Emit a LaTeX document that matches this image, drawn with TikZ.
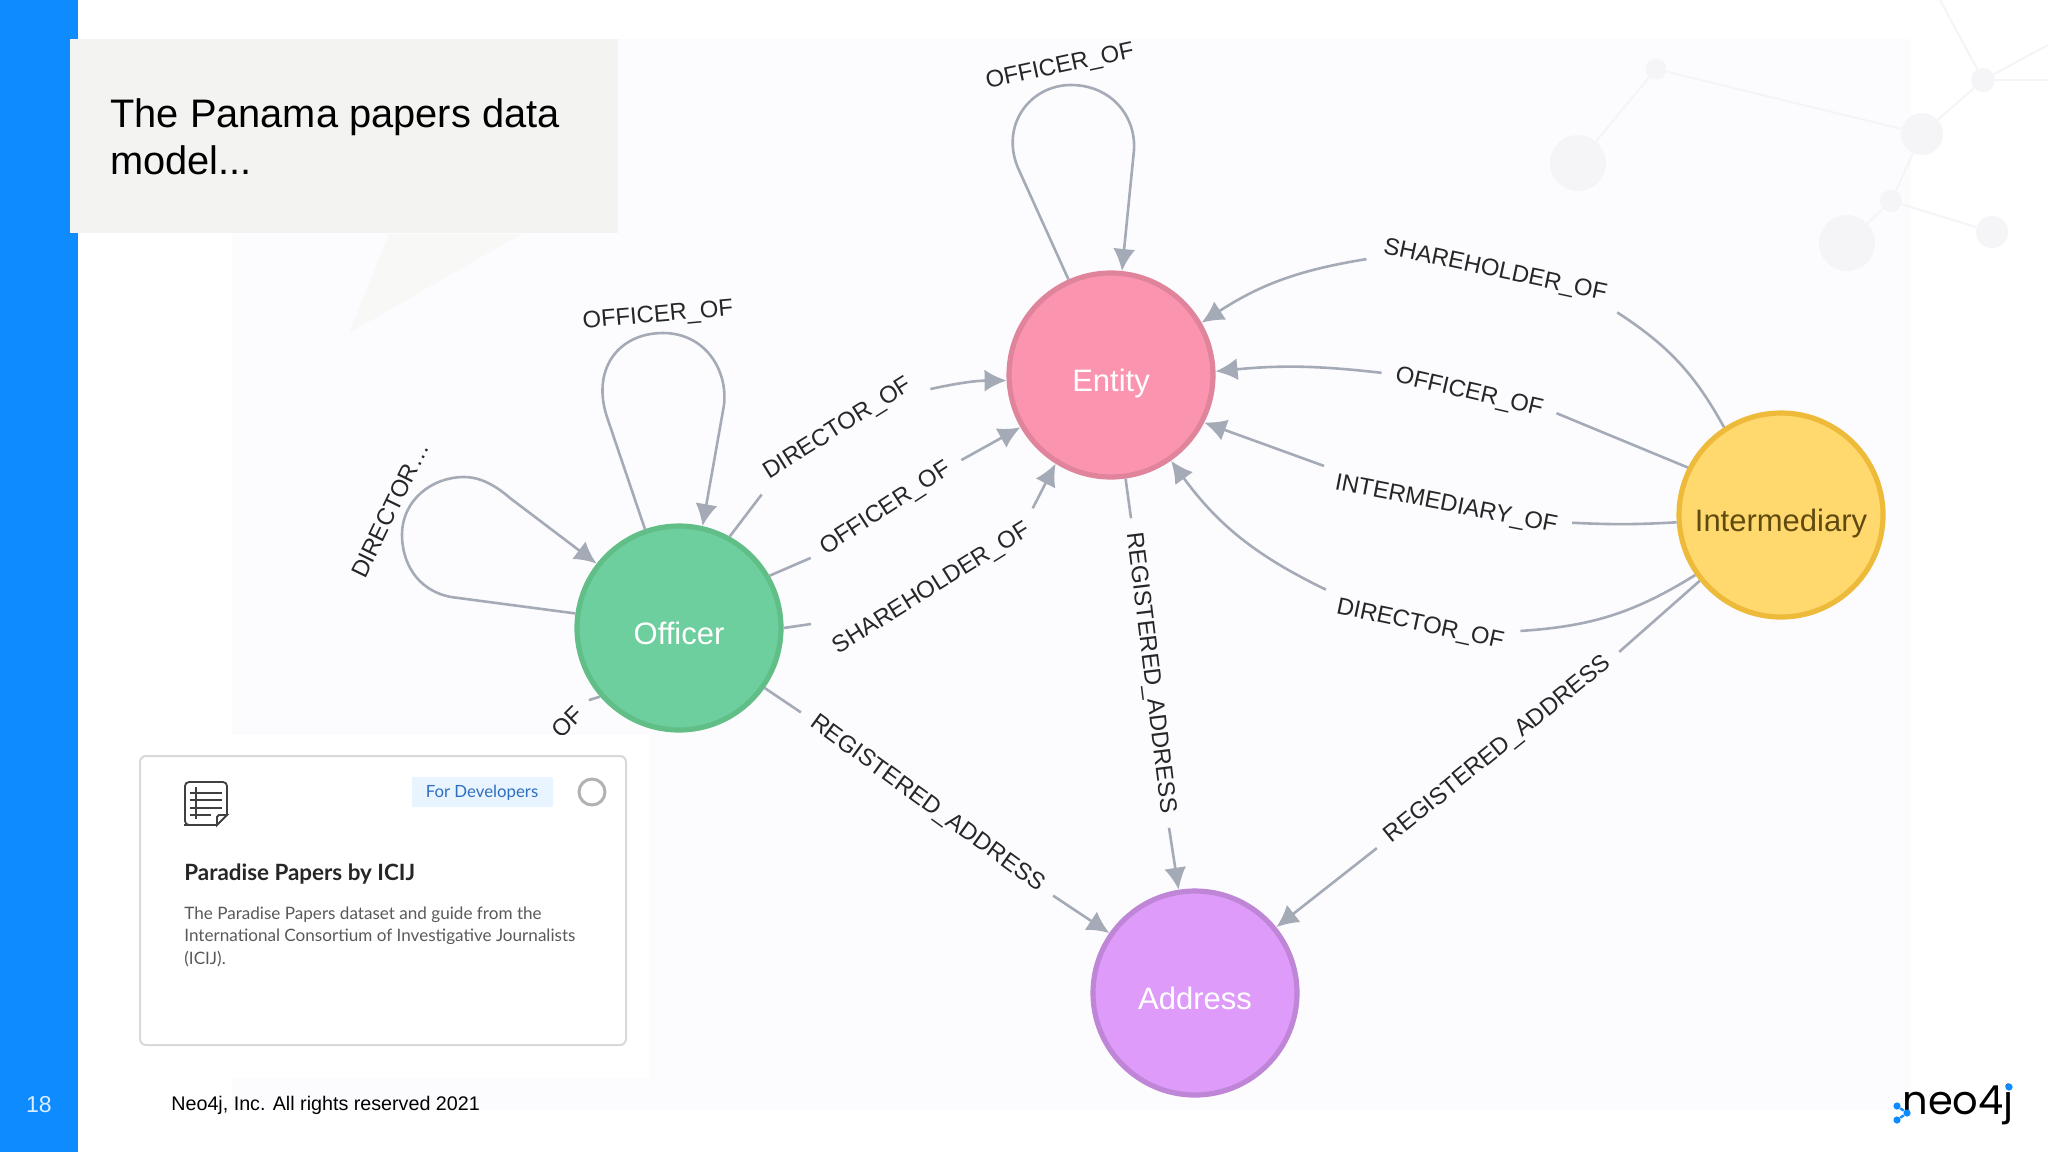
\documentclass[tikz,border=0pt]{standalone}
\usepackage{fontspec}
\setmainfont{Liberation Sans}
\newfontfamily\cardfont{Lato}
\newfontfamily\logofont{Poppins}
\usetikzlibrary{arrows.meta}

\definecolor{barblue}{HTML}{0D8BFF}
\definecolor{relgrey}{HTML}{A5ABB6}
\definecolor{softbg}{HTML}{FCFCFE}
\definecolor{titlebg}{HTML}{F3F3F2}
\definecolor{decograph}{HTML}{F5F5F7}

\tikzset{
  graphnode/.style={circle, minimum size=102pt, inner sep=0pt, line width=2.6pt, text height=16.4pt, text depth=0pt, font=\fontsize{15.5}{18}\selectfont},
  rel/.style={draw=relgrey, line width=1.3pt},
  relarrow/.style={rel, -{Latex[length=11pt,width=11pt]}},
  rellabel/.style={font=\fontsize{11.9}{14}\selectfont, text=black!85, inner xsep=7pt, inner ysep=2pt},
  decodot/.style={circle, fill=decograph, inner sep=0pt},
  logodot/.style={circle, fill=barblue, inner sep=0pt, minimum size=3.6pt}
}

\begin{document}
\begin{tikzpicture}[x=0.5pt,y=-0.5pt]
\useasboundingbox (0,0) rectangle (2048,1152);
\fill[white] (0,0) rectangle (2048,1152);

% Draw the pale backdrop and its faint graph
\fill[softbg] (232,39) rectangle (1911,1110);
\foreach \name/\x/\y/\size in {da/1656/69/21, db/1578/163/56, dc/1922/134/42, dd/1983/80/24, de/1891/201/22, df/1847/243/56, dg/1992/232/32}
  \node[decodot, minimum size=\size*0.5pt] (\name) at (\x,\y) {};
\foreach \from/\to in {da/db, da/dc, dc/dd, dc/de, de/df, de/dg}
  \draw[decograph, line width=1pt] (\from) -- (\to);
\coordinate (dh) at (1940,0);
\coordinate (di) at (2048,45);
\coordinate (dj) at (2048,80);
\foreach \to in {dh, di, dj}
  \draw[decograph, line width=1pt] (dd) -- (\to);

% Draw the labels of the connectors
\foreach \name/\x/\y/\ang/\txt in {
    lbEntLoop/1060/67/12/OFFICER\_OF,
    lbOffLoop/658/316/5/OFFICER\_OF,
    lbOffDir/390/510/64/DIRECTOR\ldots,
    lbDirEnt/838/429/32/DIRECTOR\_OF,
    lbOffEnt/886/509/33/OFFICER\_OF,
    lbShaEnt/932/589/32/SHAREHOLDER\_OF,
    lbIntSha/1495/271/-12/SHAREHOLDER\_OF,
    lbIntOff/1469/393/-13/OFFICER\_OF,
    lbIntInt/1446/505/-11/INTERMEDIARY\_OF,
    lbIntDir/1420/625/-12/DIRECTOR\_OF,
    lbEntAdr/1150/673/-83/REGISTERED\_ADDRESS,
    lbOffAdr/927/804/-36/REGISTERED\_ADDRESS,
    lbIntAdr/1498/750/39/REGISTERED\_ADDRESS,
    lbCut/567/722/45/OF}
  \node[rellabel, rotate=\ang] (\name) at (\x,\y) {\txt};
\coordinate (shaStub) at (811,624);

% The card sits on a white patch that cuts the last label
\fill[white] (78,735) rectangle (649,1078);

% Draw the four graph nodes
\node[graphnode, fill={rgb,255:red,251;green,149;blue,175}, draw={rgb,255:red,224;green,132;blue,155}, text=white] (entity) at (1111,375) {Entity};
\node[graphnode, fill={rgb,255:red,109;green,206;blue,158}, draw={rgb,255:red,96;green,190;blue,134}, text=white] (officer) at (679,628) {Officer};
\node[graphnode, fill={rgb,255:red,255;green,216;blue,110}, draw={rgb,255:red,237;green,186;blue,57}, text={rgb,255:red,96;green,74;blue,14}] (intermediary) at (1781,515) {Intermediary};
\node[graphnode, fill={rgb,255:red,222;green,155;blue,249}, draw={rgb,255:red,191;green,133;blue,214}, text=white] (address) at (1195,993) {Address};

% Draw the loops
\draw[relarrow] (entity.114) -- (1018,168) .. controls (1000,125) and (1030,85) .. (1071,85)
  .. controls (1110,85) and (1136,115) .. (1134,150) -- (entity.84);
\draw[relarrow] (officer.109) -- (608,420) .. controls (590,370) and (618,333) .. (663,333)
  .. controls (705,333) and (728,370) .. (724,405) -- (officer.77);
\draw[relarrow] (officer.172) -- (451,597) .. controls (415,590) and (402,560) .. (402,535)
  .. controls (402,500) and (432,477) .. (464,477) .. controls (480,477) and (495,485) .. (510,498) -- (officer.142);

% Draw the connectors, each broken by its label
\draw[rel] (officer.61) -- (lbDirEnt.south west);
\draw[relarrow] (lbDirEnt.south east) to[bend left=6] (entity.183);
\draw[rel] (officer.30) -- (lbOffEnt.west);
\draw[relarrow] (lbOffEnt.east) -- (entity.210);
\draw[rel] (officer.0) -- (shaStub);
\draw[relarrow] (lbShaEnt.north east) -- (entity.238);
\draw[rel] (officer.-139) -- (lbCut.east);
\draw[rel] (officer.-35) -- (lbOffAdr.west);
\draw[relarrow] (lbOffAdr.east) -- (address.145);
\draw[rel] (entity.-82) -- (lbEntAdr.west);
\draw[relarrow] (lbEntAdr.east) -- (address.99);
\draw[rel] (intermediary.123) to[bend right=14] (lbIntSha.south east);
\draw[relarrow] (lbIntSha.south west) to[bend right=12] (entity.30);
\draw[rel] (intermediary.153) -- (lbIntOff.east);
\draw[relarrow] (lbIntOff.west) to[bend right=6] (entity.2);
\draw[rel] (intermediary.184) to[bend left=3] (lbIntInt.3);
\draw[relarrow] (lbIntInt.north west) -- (entity.-27);
\draw[rel] (intermediary.215) to[bend left=14] (lbIntDir.north east);
\draw[relarrow] (lbIntDir.north west) to[bend left=14] (entity.-55);
\draw[rel] (intermediary.219) -- (lbIntAdr.east);
\draw[relarrow] (lbIntAdr.west) -- (address.39);

% Draw the slide furniture
\fill[barblue] (0,0) rectangle (78,1152);
\fill[titlebg!60!white] (389,234) -- (349,333) -- (521,234) -- cycle;
\fill[titlebg] (70,39) rectangle (618,233);
\node[anchor=north west, align=left, inner sep=0pt, font=\fontsize{19.9}{23.5}\selectfont] (title) at (110,98) {The Panama papers data\\model...};
\node[text=white!85!barblue, font=\fontsize{11.5}{14}\selectfont] (pageno) at (39,1105) {18};
\node[anchor=base west, inner sep=0pt, font=\fontsize{9.85}{12}\selectfont] (footer) at (171,1110) {Neo4j, Inc. All rights reserved 2021};

% Draw the card
\draw[black!15, line width=1pt, fill=white, rounded corners=3pt] (140,756) rectangle (626,1045);
\draw[black!75, line width=0.9pt, rounded corners=2pt] (217,825) -- (188,825) -- (185,825) -- (185,782) -- (227,782) -- (227,815);
\draw[black!75, line width=0.9pt] (217,825) -- (227,815) -- (219,815) -- (217,817) -- cycle;
\foreach \y/\xend in {793/222, 800/222, 808/222, 815/211}
  \draw[black!75, line width=0.8pt] (190,\y) -- (\xend,\y);
\draw[black!75, line width=0.8pt] (196,787) -- (196,819);
\fill[blue!50!cyan!9!white, rounded corners=1pt] (412,777) rectangle (553,807);
\node[font=\cardfont\fontsize{8.4}{10}\selectfont, text={rgb,255:red,48;green,110;blue,190}] (badge) at (482,793) {For Developers};
\node[circle, draw=black!30, line width=1.5pt, minimum size=13pt, inner sep=0pt] (radio) at (592,792) {};
\node[anchor=base west, inner sep=0pt, font=\cardfont\bfseries\fontsize{11.2}{13}\selectfont, text=black!85] (cardtitle) at (184,880) {Paradise Papers by ICIJ};
\node[anchor=north west, align=left, inner sep=0pt, font=\cardfont\fontsize{8.55}{11.4}\selectfont, text=black!65] (cardtext) at (184,906)
  {The Paradise Papers dataset and guide from the\\International Consortium of Investigative Journalists\\(ICIJ).};

% Draw the logo
\node[anchor=base west, inner sep=0pt, font=\logofont\fontsize{20}{22}\selectfont] (logo) at (1902,1114) {neo4j};
\node[logodot] (lga) at (1897,1106) {};
\node[logodot] (lgb) at (1907,1113) {};
\node[logodot] (lgc) at (1897,1120) {};
\draw[barblue, line width=1.2pt] (lga) -- (lgb) -- (lgc);
\node[logodot] (lgd) at (2009,1087) {};

\end{tikzpicture}
\end{document}
